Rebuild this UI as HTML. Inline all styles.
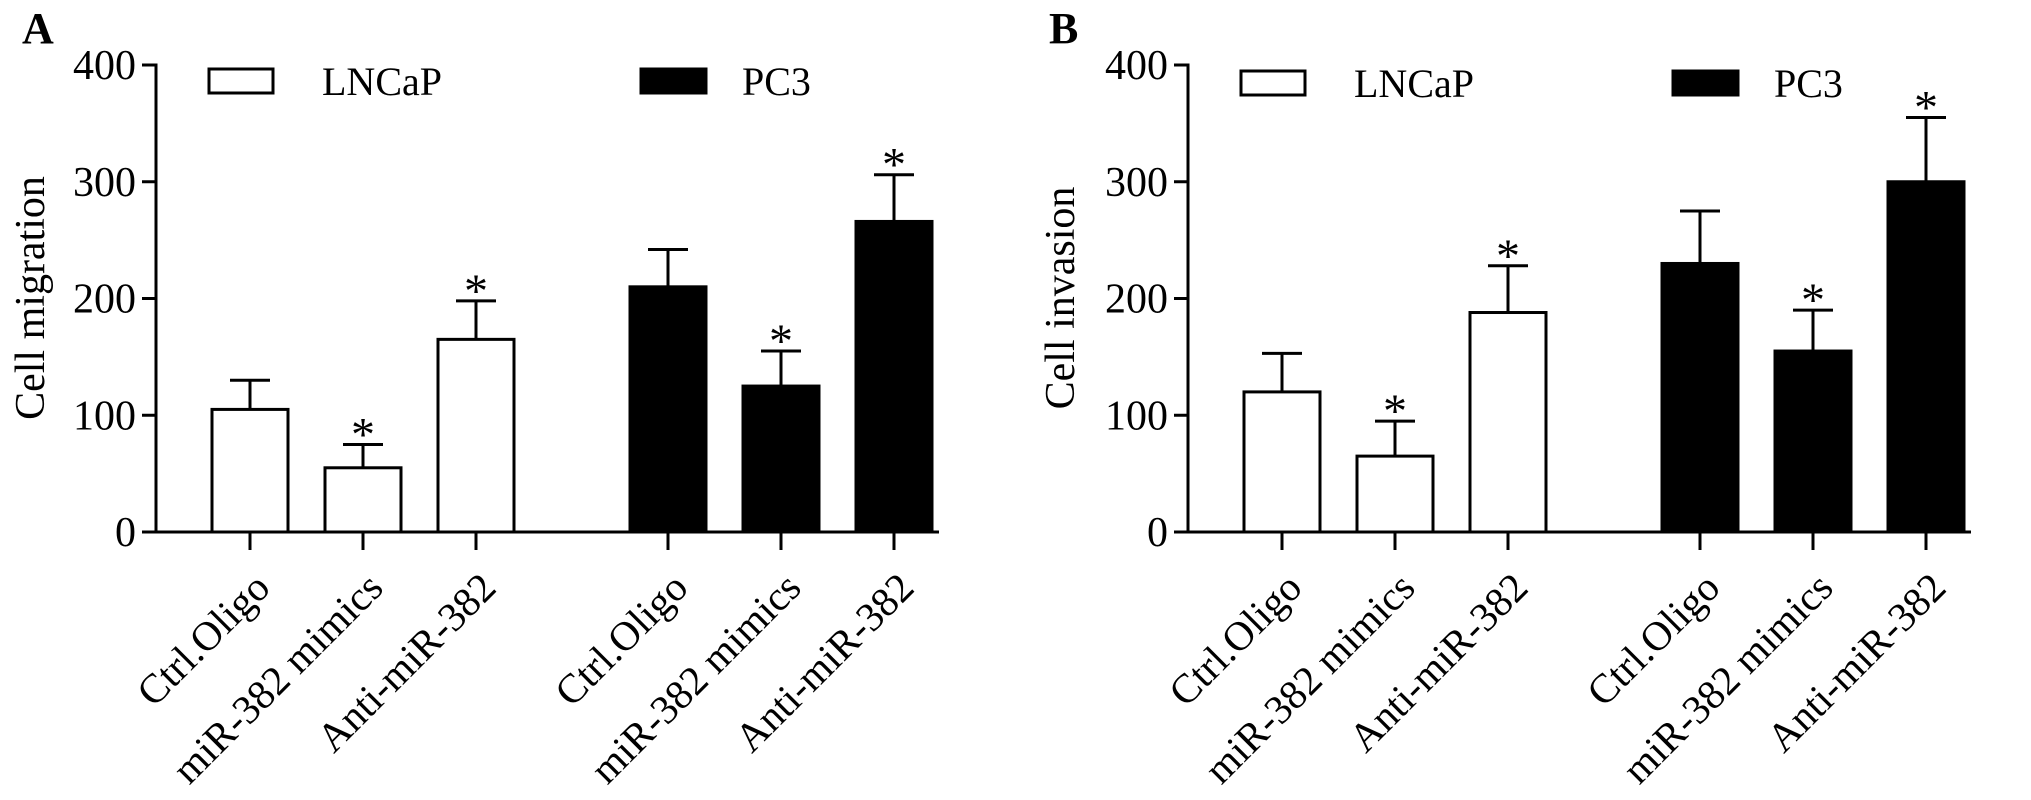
<!DOCTYPE html>
<html><head><meta charset="utf-8"><style>
html,body{margin:0;padding:0;background:#fff;}
svg{display:block;font-family:"Liberation Serif","Times New Roman",serif;}
</style></head><body>
<svg id="fig" width="2031" height="800" viewBox="0 0 2031 800" xmlns="http://www.w3.org/2000/svg"></svg>
<script>
const categories = ["Ctrl.Oligo","miR-382 mimics","Anti-miR-382","Ctrl.Oligo","miR-382 mimics","Anti-miR-382"];
const migrationMeans = [105, 55, 165, 210, 125, 266];
const migrationErr = [130, 75, 198, 242, 155, 306];
const invasionMeans = [120, 65, 188, 230, 155, 300];
const invasionErr = [153, 95, 228, 275, 190, 355];
const significant = [false, true, true, false, true, true];
const cellLines = ["LNCaP","LNCaP","LNCaP","PC3","PC3","PC3"];
const yTicks = [0, 100, 200, 300, 400];

const NS = "http://www.w3.org/2000/svg";
const svg = document.getElementById("fig");
function mk(tag, attrs, parent){
  const e = document.createElementNS(NS, tag);
  for (const k in attrs) e.setAttribute(k, attrs[k]);
  (parent || svg).appendChild(e);
  return e;
}

function panel(ox, letter, title, means, errs, legendY){
  const g = mk("g", {});
  
  
  const axX = 156 + ox, y0 = 532, yTop = 65;
  const y = v => y0 - (v / 400) * (y0 - yTop);
  const slot = i => 250 + ox + i * 113 + (i >= 3 ? 79 : 0);
  const bw = 76;

  const lt = mk("text", {x: 22 + (letter === "B" ? 1027 : 0), y: 43, "font-size": 44, "font-weight": "bold"}, g);
  lt.textContent = letter;
  
  

  const ya = mk("line", {x1: axX, y1: yTop - 1.5, x2: axX, y2: y0, stroke: "#000", "stroke-width": 3}, g);
  
  
  yTicks.forEach(t => {
    const tk = mk("line", {x1: axX - 14, y1: y(t), x2: axX, y2: y(t), stroke: "#000", "stroke-width": 3}, g);
    
    
    const tl = mk("text", {x: axX - 20, y: y(t) + 14, "font-size": 42, "text-anchor": "end"}, g);
    tl.textContent = t;
    
    
  });
  const yt = mk("text", {x: 0, y: 0, "font-size": 42, "text-anchor": "middle", transform: `translate(${44 + (letter === "B" ? 1030 : 0)},298) rotate(-90)`}, g);
  yt.textContent = title;
  
  

  const xa = mk("line", {x1: axX, y1: y0, x2: slot(5) + 45, y2: y0, stroke: "#000", "stroke-width": 3}, g);
  
  

  means.forEach((m, i) => {
    const cx = slot(i);
    const filled = cellLines[i] === "PC3";
    const eb = mk("line", {x1: cx, y1: y(m), x2: cx, y2: y(errs[i]), stroke: "#000", "stroke-width": 3}, g);
    
    
    const cap = mk("line", {x1: cx - 20, y1: y(errs[i]), x2: cx + 20, y2: y(errs[i]), stroke: "#000", "stroke-width": 3}, g);
    
    
    const r = mk("rect", {x: cx - bw / 2, y: y(m), width: bw, height: y0 - y(m), fill: filled ? "#000" : "#fff", stroke: "#000", "stroke-width": 3}, g);
    
    
    const xt = mk("line", {x1: cx, y1: y0, x2: cx, y2: y0 + 18, stroke: "#000", "stroke-width": 3}, g);
    
    
    if (significant[i]) {
      const s = mk("text", {x: cx, y: y(errs[i]) + 6, "font-size": 48, "text-anchor": "middle"}, g);
      s.textContent = "*";
      
      
    }
    const xl = mk("text", {x: 0, y: 0, "font-size": 41, "text-anchor": "end", transform: `translate(${cx + 22},${y0 + 58}) rotate(-45)`}, g);
    xl.textContent = categories[i];
    
    
  });

  const lb1 = mk("rect", {x: 209 + ox, y: legendY - 12, width: 64, height: 24, fill: "#fff", stroke: "#000", "stroke-width": 3}, g);
  
  
  const lt1 = mk("text", {x: 322 + ox, y: legendY + 14, "font-size": 40}, g);
  lt1.textContent = "LNCaP";
  
  
  const lb2 = mk("rect", {x: 641 + ox, y: legendY - 12, width: 65, height: 24, fill: "#000", stroke: "#000", "stroke-width": 3}, g);
  
  
  const lt2 = mk("text", {x: 742 + ox, y: legendY + 14, "font-size": 40}, g);
  lt2.textContent = "PC3";
  
  
}

panel(0, "A", "Cell migration", migrationMeans, migrationErr, 81);
panel(1032, "B", "Cell invasion", invasionMeans, invasionErr, 83);
</script>
</body></html>
